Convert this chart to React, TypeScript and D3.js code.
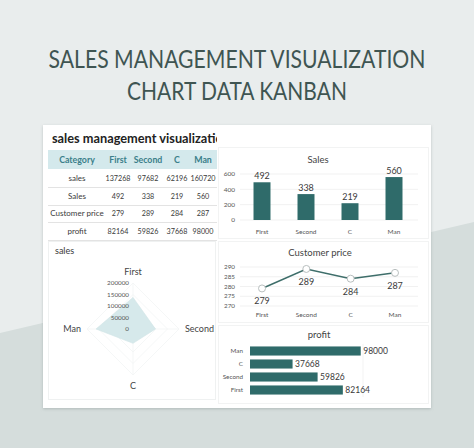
import React, { useLayoutEffect, useRef, useState } from "react";
import * as d3 from "d3";

const categories = ["First", "Second", "C", "Man"];
const salesAmount = [137268, 97682, 62196, 160720];
const salesQty = [492, 338, 219, 560];
const customerPrice = [279, 289, 284, 287];
const profit = [82164, 59826, 37668, 98000];
const rowLabels = ["sales", "Sales", "Customer price", "profit"];
const barTicks = [0, 200, 400, 600];
const lineTicks = [270, 275, 280, 285, 290];
const radarTicks = [0, 50000, 100000, 150000, 200000];
const titleLines = ["SALES MANAGEMENT VISUALIZATION", "CHART DATA KANBAN"];

const FONT = "Lato, 'Noto Sans', sans-serif";
const TEAL = "#2f6b6a";
const TXT = "#3a3a3a";

function FitText({ x, y, width, children, ...rest }: any) {
  const ref = useRef<SVGTextElement>(null);
  const [s, setS] = useState(1);
  useLayoutEffect(() => {
    if (ref.current) {
      const w = ref.current.getComputedTextLength();
      if (w > 0) setS(width / w);
    }
  }, [width]);
  return (
    <g transform={`translate(${x},${y}) scale(${s},1)`}>
      <text ref={ref} x={0} y={0} textAnchor="middle" {...rest}>{children}</text>
    </g>
  );
}

export default function App() {
  const W = 474, H = 448;
  const rows = [salesAmount, salesQty, customerPrice, profit];
  const colX = [77, 118, 148, 177, 203];
  const rowY = [181, 199, 216, 234];

  const xb = d3.scaleBand<string>().domain(categories).range([240, 416]).paddingInner(0.614).paddingOuter(0.307);
  const yb = d3.scaleLinear().domain([0, 600]).range([220, 174]);

  const xl = d3.scalePoint<string>().domain(categories).range([262, 395]);
  const yl = d3.scaleLinear().domain([270, 290]).range([306, 267]);
  const line = d3.line<number>().x((_, i) => xl(categories[i])!).y((d) => yl(d));

  const cx = 133, cy = 329;
  const rr = d3.scaleLinear().domain([0, 200000]).range([0, 46]);
  const ang = (i: number) => (Math.PI * 2 * i) / categories.length - Math.PI / 2;
  const radarPts = salesAmount.map((v, i) => [cx + rr(v) * Math.cos(ang(i)), cy + rr(v) * Math.sin(ang(i))]);
  const radarPath = d3.line().curve(d3.curveLinearClosed)(radarPts as [number, number][]);

  const profCats = categories.slice().reverse();
  const yp = d3.scaleBand<string>().domain(profCats).range([344.5, 396.5]).paddingInner(0.3).paddingOuter(0.15);
  const xp = d3.scaleLinear().domain([0, 100000]).range([250, 363]);

  return (
    <svg width={W} height={H} style={{ position: "absolute", left: 0, top: 0 }} fontFamily={FONT}>
      <defs>
        <clipPath id="tclip"><rect x={43} y={125} width={174} height={120} /></clipPath>
        <filter id="sh" x="-5%" y="-5%" width="110%" height="110%">
          <feDropShadow dx="0" dy="1" stdDeviation="1.5" floodColor="#8a9696" floodOpacity="0.5" />
        </filter>
      </defs>
      <rect x={0} y={0} width={W} height={H} fill="#e9eded" />
      <polygon points="0,333 474,222 474,448 0,448" fill="#d5dddc" />

      <FitText x={237} y={68} width={377} fontSize={25} fill="#3f5552">{titleLines[0]}</FitText>
      <FitText x={237} y={100} width={220} fontSize={25} fill="#3f5552">{titleLines[1]}</FitText>

      <rect x={43} y={125} width={388} height={283} fill="#fff" filter="url(#sh)" />

      <rect x={218.5} y={147.5} width={210} height={91} fill="none" stroke="#f2f3f3" />
      <rect x={48.5} y={241.5} width={167} height={158} fill="none" stroke="#eff1f1" />
      <rect x={218.5} y={241.5} width={210} height={81} fill="none" stroke="#f2f3f3" />
      <rect x={218.5} y={325.5} width={210} height={78} fill="none" stroke="#f2f3f3" />

      <g clipPath="url(#tclip)">
        <text x={52} y={143} fontSize={14} fontWeight={700} fill="#222" textLength={178} lengthAdjust="spacingAndGlyphs">sales management visualization</text>
        <rect x={48} y={150} width={170} height={19} fill="#d4e9ec" />
        {["Category", ...categories].map((c, i) => (
          <text key={c} x={colX[i]} y={163} textAnchor="middle" fontSize={8.8} fontWeight={700} fill="#3b7f8a">{c}</text>
        ))}
        {rowLabels.map((r, j) => (
          <g key={r}>
            <text x={colX[0]} y={rowY[j]} textAnchor="middle" fontSize={8} fill={TXT}>{r}</text>
            {rows[j].map((v, i) => (
              <text key={i} x={colX[i + 1]} y={rowY[j]} textAnchor="middle" fontSize={7.2} fill={TXT}>{v}</text>
            ))}
            <line x1={48} x2={218} y1={rowY[j] + 6.5} y2={rowY[j] + 6.5} stroke="#dcdcdc" strokeWidth={0.8} />
          </g>
        ))}
      </g>

      <text x={318} y={163} textAnchor="middle" fontSize={9.5} fill="#444">Sales</text>
      {barTicks.map((t) => (
        <g key={t}>
          <line x1={240} x2={418} y1={yb(t)} y2={yb(t)} stroke="#eeeeee" strokeWidth={0.8} />
          <text x={235} y={yb(t) + 2.3} textAnchor="end" fontSize={6.5} fill="#555">{t}</text>
        </g>
      ))}
      {categories.map((c, i) => (
        <g key={c}>
          <rect x={xb(c)} y={yb(salesQty[i])} width={xb.bandwidth()} height={yb(0) - yb(salesQty[i])} fill={TEAL} />
          <text x={xb(c)! + xb.bandwidth() / 2} y={yb(salesQty[i]) - 3.5} textAnchor="middle" fontSize={9} fill={TXT}>{salesQty[i]}</text>
          <text x={xb(c)! + xb.bandwidth() / 2} y={234} textAnchor="middle" fontSize={6.5} fill="#555">{c}</text>
        </g>
      ))}

      <text x={55} y={254} fontSize={9} fill={TXT}>sales</text>
      {radarTicks.slice(1).map((t) => (
        <polygon key={t} points={categories.map((_, i) => `${cx + rr(t) * Math.cos(ang(i))},${cy + rr(t) * Math.sin(ang(i))}`).join(" ")} fill="none" stroke="#f3f5f5" strokeWidth={0.8} />
      ))}
      {categories.map((_, i) => (
        <line key={i} x1={cx} y1={cy} x2={cx + rr(200000) * Math.cos(ang(i))} y2={cy + rr(200000) * Math.sin(ang(i))} stroke="#f3f5f5" strokeWidth={0.8} />
      ))}
      <path d={radarPath!} fill="#d6e9eb" stroke="#d0e4e6" strokeWidth={0.6} />
      {radarTicks.map((t) => (
        <text key={t} x={129} y={cy - rr(t) + 2.3} textAnchor="end" fontSize={6.3} fill="#555">{t}</text>
      ))}
      {categories.map((c, i) => {
        const a = ang(i);
        const horiz = Math.abs(Math.cos(a)) > 0.5;
        const r = horiz ? 52 : 57;
        const x = cx + r * Math.cos(a);
        const y = cy + r * Math.sin(a) + 3;
        const anchor = !horiz ? "middle" : Math.cos(a) > 0 ? "start" : "end";
        return <text key={c} x={x} y={y} textAnchor={anchor} fontSize={9} fill="#444">{c}</text>;
      })}

      <text x={320} y={256} textAnchor="middle" fontSize={9.5} fill="#444">Customer price</text>
      {lineTicks.map((t) => (
        <g key={t}>
          <line x1={240} x2={418} y1={yl(t)} y2={yl(t)} stroke="#eeeeee" strokeWidth={0.8} />
          <text x={235} y={yl(t) + 2.2} textAnchor="end" fontSize={6.3} fill="#555">{t}</text>
        </g>
      ))}
      <path d={line(customerPrice)!} fill="none" stroke="#3e6e6a" strokeWidth={1.5} />
      {categories.map((c, i) => (
        <g key={c}>
          <circle cx={xl(c)} cy={yl(customerPrice[i])} r={3.5} fill="#fff" stroke="#b9bfbf" strokeWidth={1} />
          <text x={xl(c)} y={yl(customerPrice[i]) + 16} textAnchor="middle" fontSize={9} fill={TXT}>{customerPrice[i]}</text>
          <text x={xl(c)} y={316.5} textAnchor="middle" fontSize={6.5} fill="#555">{c}</text>
        </g>
      ))}

      <text x={319} y={338} textAnchor="middle" fontSize={9.5} fill="#444">profit</text>
      <line x1={xp(100000)} x2={xp(100000)} y1={344} y2={397} stroke="#f0f0f0" strokeWidth={0.8} />
      {categories.map((c, i) => (
        <g key={c}>
          <rect x={xp(0)} y={yp(c)} width={xp(profit[i]) - xp(0)} height={yp.bandwidth()} fill={TEAL} />
          <text x={xp(profit[i]) + 2.5} y={yp(c)! + yp.bandwidth() / 2 + 3} fontSize={8.5} fill={TXT}>{profit[i]}</text>
          <text x={243} y={yp(c)! + yp.bandwidth() / 2 + 2.3} textAnchor="end" fontSize={6.3} fill="#555">{c}</text>
        </g>
      ))}
    </svg>
  );
}
